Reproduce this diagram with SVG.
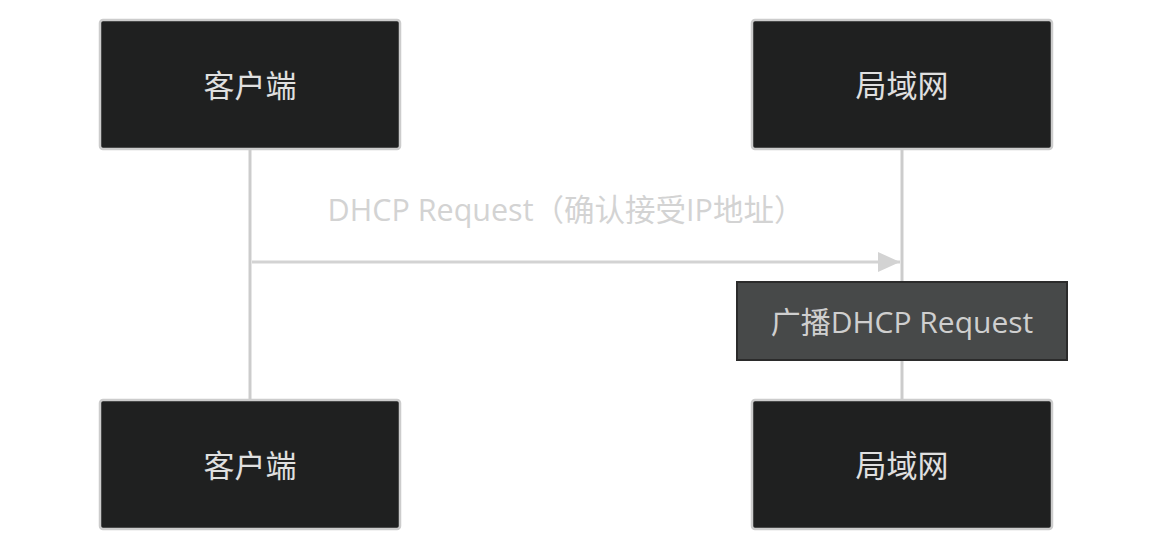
<svg xmlns="http://www.w3.org/2000/svg" width="1167" height="552" viewBox="0 0 1167 552">
<style>
.actor rect{fill:#1f2020;stroke:#cccccc;stroke-width:2.5}
.actor text{fill:#e0e0e0;font-family:"Open Sans","Noto Sans CJK SC",sans-serif;font-size:31px;text-anchor:middle;dominant-baseline:central}
.life{stroke:#cccccc;stroke-width:3}
.msg{stroke:#d3d3d3;stroke-width:3;fill:none}
.msgtext{fill:#d3d3d3;font-family:"Open Sans","Noto Sans CJK SC",sans-serif;font-size:30.5px;text-anchor:middle}
.note rect{fill:#474949;stroke:#2b2b2b;stroke-width:2}
.note text{fill:#cfcfcf;font-family:"Open Sans","Noto Sans CJK SC",sans-serif;font-size:30px;text-anchor:middle;dominant-baseline:central}
</style>
<defs>
<marker id="arrow" markerWidth="22" markerHeight="20" refX="22" refY="10" orient="auto" markerUnits="userSpaceOnUse" viewBox="0 0 22 20">
<path d="M0,0 L22,10 L0,20 z" fill="#d3d3d3"/>
</marker>
</defs>
<rect width="1167" height="552" fill="#ffffff"/>
<g id="connectors">
<line class="life" x1="250" y1="150" x2="250" y2="400"/>
<line class="life" x1="902" y1="150" x2="902" y2="400"/>
<path class="msg" d="M252,262 L900,262" marker-end="url(#arrow)"/>
<text class="msgtext" x="566" y="221">DHCP Request（确认接受IP地址）</text>
</g>
<g id="client-top" class="actor">
<rect x="100" y="20" width="300" height="129" rx="3"/>
<text x="250" y="85">客户端</text>
</g>
<g id="lan-top" class="actor">
<rect x="752" y="20" width="300" height="129" rx="3"/>
<text x="902" y="85">局域网</text>
</g>
<g id="client-bottom" class="actor">
<rect x="100" y="400" width="300" height="129" rx="3"/>
<text x="250" y="465">客户端</text>
</g>
<g id="lan-bottom" class="actor">
<rect x="752" y="400" width="300" height="129" rx="3"/>
<text x="902" y="465">局域网</text>
</g>
<g id="note" class="note">
<rect x="737" y="282" width="330" height="78"/>
<text x="902" y="321">广播DHCP Request</text>
</g>
</svg>
